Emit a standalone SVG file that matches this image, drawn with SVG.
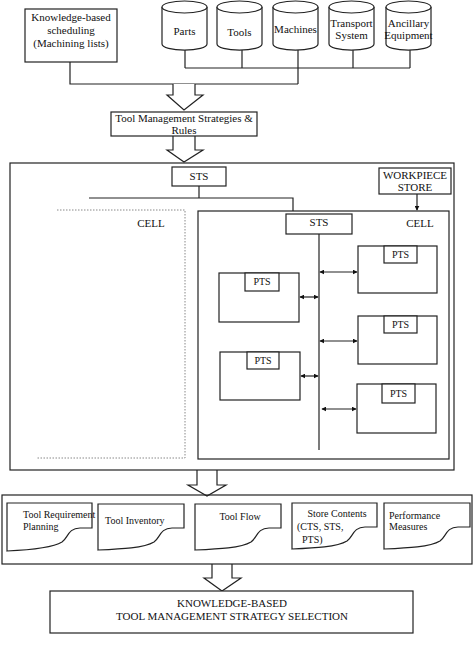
<svg xmlns="http://www.w3.org/2000/svg" width="474" height="647" viewBox="0 0 474 647">
<defs>
<marker id="ah" viewBox="0 0 8 8" refX="7" refY="4" markerWidth="5" markerHeight="5" orient="auto-start-reverse" markerUnits="userSpaceOnUse">
<path d="M0,0 L8,4 L0,8 Z" fill="#111"/>
</marker>
<style>
.b{fill:#fff;stroke:#222;stroke-width:1.2}
.l{fill:none;stroke:#222;stroke-width:1.2}
.d{fill:none;stroke:#888;stroke-width:1;stroke-dasharray:1.5,1.5}
.t{font-family:"Liberation Serif","Times New Roman",serif;font-size:11px;fill:#111;text-anchor:middle}
.s{font-family:"Liberation Serif","Times New Roman",serif;font-size:10px;fill:#111}
.m{text-anchor:middle}
</style>
</defs>
<rect width="474" height="647" fill="#fff"/>

<g id="connectors">
<path class="l" d="M185,50 V68 M242,50 V68 M298,50 V68 M353,50 V68 M410,50 V68 M185,68 H410 M298,68 V84 M70,62 V84 H298"/>
<path class="b" d="M173,84 V95 H167 L184,110 L203,95 H195 V84"/>
<path class="b" d="M173,136 V150 H167 L184,162 L203,150 H195 V136"/>
<path class="l" d="M199,186 V198 M89,198 H293 V211"/>
<path class="l" d="M417,194 V210" marker-end="url(#ah)"/>
<path class="l" d="M319,234 V450"/>
<path class="l" d="M320,272 H357" marker-start="url(#ah)" marker-end="url(#ah)"/>
<path class="l" d="M300,297 H318" marker-start="url(#ah)" marker-end="url(#ah)"/>
<path class="l" d="M320,341 H357" marker-start="url(#ah)" marker-end="url(#ah)"/>
<path class="l" d="M301,376 H318" marker-start="url(#ah)" marker-end="url(#ah)"/>
<path class="l" d="M322,409 H356" marker-start="url(#ah)" marker-end="url(#ah)"/>
<path class="b" d="M197,470 V485 H188 L207,496 L226,485 H217 V470"/>
<path class="b" d="M212,564 V578 H204 L222,591 L241,578 H232 V564"/>
</g>

<g id="kbs">
<rect class="b" x="25" y="9" width="92" height="53"/>
<text class="t" x="71" y="21">Knowledge-based</text>
<text class="t" x="71" y="34">scheduling</text>
<text class="t" x="71" y="47">(Machining lists)</text>
</g>

<g id="cyl-parts">
<path class="b" d="M162,7 V44 A22,6 0 0 0 207,44 V7"/>
<ellipse class="b" cx="184.5" cy="7" rx="22.5" ry="6"/>
<text class="t" x="184.5" y="35">Parts</text>
</g>
<g id="cyl-tools">
<path class="b" d="M217,7 V44 A22,6 0 0 0 262,44 V7"/>
<ellipse class="b" cx="239.5" cy="7" rx="22.5" ry="6"/>
<text class="t" x="239.5" y="36">Tools</text>
</g>
<g id="cyl-machines">
<path class="b" d="M273,7 V44 A22,6 0 0 0 318,44 V7"/>
<ellipse class="b" cx="295.5" cy="7" rx="22.5" ry="6"/>
<text class="t" x="295.5" y="33">Machines</text>
</g>
<g id="cyl-transport">
<path class="b" d="M329,7 V44 A22,6 0 0 0 374,44 V7"/>
<ellipse class="b" cx="351.5" cy="7" rx="22.5" ry="6"/>
<text class="t" x="351.5" y="27">Transport</text>
<text class="t" x="351.5" y="39">System</text>
</g>
<g id="cyl-ancillary">
<path class="b" d="M386,7 V44 A22,6 0 0 0 431,44 V7"/>
<ellipse class="b" cx="408.5" cy="7" rx="22.5" ry="6"/>
<text class="t" x="408.5" y="27">Ancillary</text>
<text class="t" x="408.5" y="39">Equipment</text>
</g>

<g id="tmsr">
<rect class="b" x="111" y="112" width="146" height="24"/>
<text class="t" x="184" y="122">Tool Management Strategies &amp;</text>
<text class="t" x="184" y="134">Rules</text>
</g>

<g id="system">
<rect class="l" x="10" y="163" width="444" height="307"/>
</g>

<g id="sts-top">
<rect class="b" x="172" y="167" width="54" height="19"/>
<text class="t" x="199" y="180">STS</text>
</g>

<g id="workpiece">
<rect class="b" x="379" y="168" width="72" height="26"/>
<text class="t" x="415" y="179">WORKPIECE</text>
<text class="t" x="415" y="191">STORE</text>
</g>

<g id="cell-left">
<path class="d" d="M57,210 H185 V458 H37"/>
<text class="t" x="151" y="227">CELL</text>
</g>

<g id="cell-right">
<rect class="l" x="198" y="211" width="251" height="248"/>
<text class="t" x="420" y="227">CELL</text>
</g>

<g id="sts-cell">
<rect class="b" x="286" y="214" width="66" height="20"/>
<text class="t" x="319" y="226">STS</text>
</g>

<g id="pts-r1">
<rect class="b" x="358" y="246" width="79" height="47"/>
<rect class="b" x="384" y="246" width="33" height="17"/>
<text class="s m" x="400.5" y="258">PTS</text>
</g>
<g id="pts-l1">
<rect class="b" x="219" y="273" width="80" height="49"/>
<rect class="b" x="245" y="273" width="34" height="18"/>
<text class="s m" x="262" y="285">PTS</text>
</g>
<g id="pts-r2">
<rect class="b" x="358" y="316" width="79" height="48"/>
<rect class="b" x="384" y="316" width="33" height="17"/>
<text class="s m" x="400.5" y="328">PTS</text>
</g>
<g id="pts-l2">
<rect class="b" x="220" y="352" width="80" height="48"/>
<rect class="b" x="247" y="352" width="32" height="17"/>
<text class="s m" x="263" y="364">PTS</text>
</g>
<g id="pts-r3">
<rect class="b" x="357" y="384" width="79" height="49"/>
<rect class="b" x="382" y="384" width="33" height="19"/>
<text class="s m" x="398.5" y="397">PTS</text>
</g>

<g id="outputs">
<rect class="l" x="2" y="495" width="470" height="69"/>
</g>
<g id="doc-trp">
<path class="b" d="M7,503 H92 V528 H80 C68,528 68,538 62,542 C52,548 30,550 7,551 Z"/>
<text class="s" x="23" y="518">Tool Requirement</text>
<text class="s" x="23" y="530">Planning</text>
</g>
<g id="doc-inv">
<path class="b" d="M98,504 H184 V528 H172 C160,528 160,538 154,542 C144,548 122,549 98,550 Z"/>
<text class="s" x="105" y="524">Tool Inventory</text>
</g>
<g id="doc-flow">
<path class="b" d="M195,504 H281 V528 H269 C257,528 257,538 251,542 C241,548 219,549 195,550 Z"/>
<text class="s m" x="240" y="520">Tool Flow</text>
</g>
<g id="doc-store">
<path class="b" d="M292,503 H377 V527 H365 C353,527 353,537 347,541 C337,547 315,548 292,549 Z"/>
<text class="s m" x="337" y="517">Store Contents</text>
<text class="s" x="297" y="530">(CTS, STS,</text>
<text class="s" x="302" y="543">PTS)</text>
</g>
<g id="doc-perf">
<path class="b" d="M384,503 H470 V527 H458 C446,527 446,537 440,541 C430,547 408,548 384,549 Z"/>
<text class="s" x="389" y="519">Performance</text>
<text class="s" x="389" y="530">Measures</text>
</g>

<g id="kbtmss">
<rect class="b" x="50" y="591" width="363" height="42"/>
<text class="t" x="232" y="607">KNOWLEDGE-BASED</text>
<text class="t" x="232" y="620">TOOL MANAGEMENT STRATEGY SELECTION</text>
</g>
</svg>
